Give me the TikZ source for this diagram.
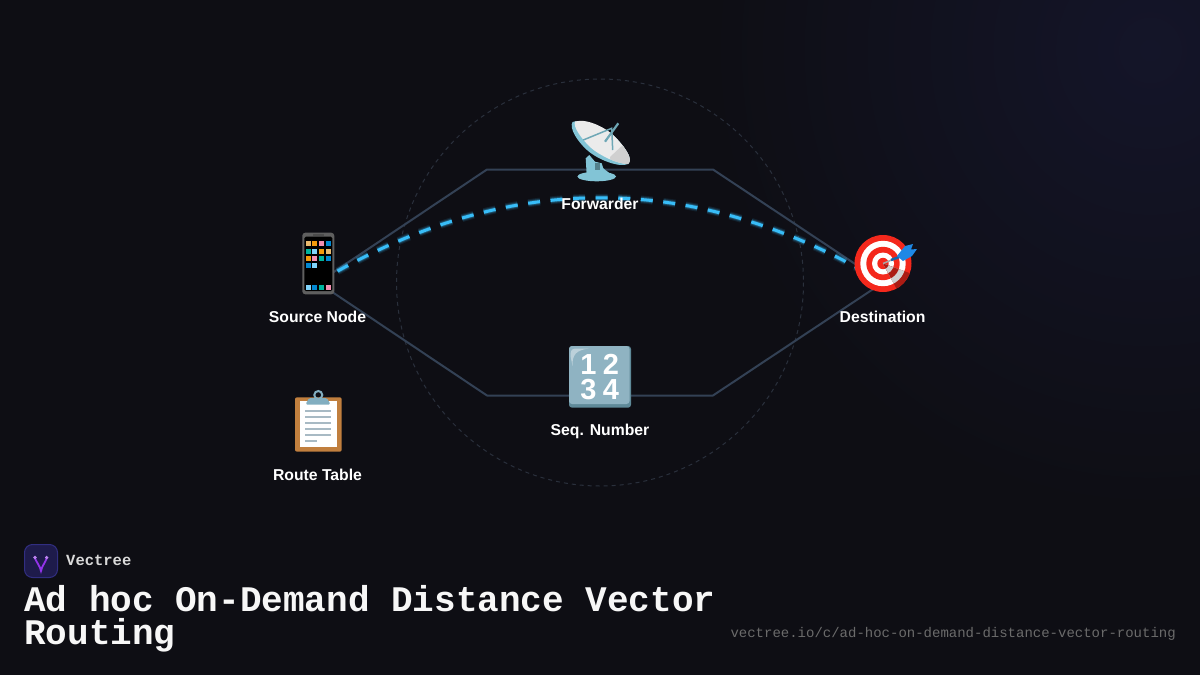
\documentclass[tikz,border=0pt]{standalone}
\usepackage{fontspec}
\setmainfont{Liberation Sans}
\setmonofont{Liberation Mono}
\usetikzlibrary{positioning,calc}
\definecolor{pagebg}{HTML}{0E0E14}
\definecolor{glowblue}{HTML}{141529}
\definecolor{linkgray}{HTML}{334155}
\definecolor{ringgray}{HTML}{2A303C}
\definecolor{pulseblue}{HTML}{38BDF8}
\definecolor{dishrim}{HTML}{82C4D6}
\definecolor{dishgray}{HTML}{D0D0D0}
\definecolor{phonetan}{HTML}{E8B96E}
\definecolor{phoneorange}{HTML}{F59A0B}
\definecolor{phonepink}{HTML}{F48FB1}
\definecolor{phoneblue}{HTML}{0288D1}
\definecolor{phoneteal}{HTML}{00B39D}
\definecolor{phonesky}{HTML}{81D4FA}
\definecolor{phoneframe}{HTML}{5F5F5F}
\definecolor{targetred}{HTML}{F4281C}
\definecolor{dartblue}{HTML}{1E88E5}
\definecolor{seqface}{HTML}{8FB3C2}
\definecolor{seqedge}{HTML}{5F8A99}
\definecolor{boardbrown}{HTML}{C17F3E}
\definecolor{clipteal}{HTML}{82AEC0}
\definecolor{paperline}{HTML}{A8BAC4}
\definecolor{logofill}{HTML}{1E1B4B}
\definecolor{logoedge}{HTML}{312E81}
\definecolor{logotree}{HTML}{9333EA}

\begin{document}
\begin{tikzpicture}[
  x=1pt, y=-1pt,
  link/.style={draw=linkgray, line width=2pt, line join=round},
  pulse/.style={draw=pulseblue, dash pattern=on 12pt off 10.6pt},
  lab/.style={font=\fontsize{15.75}{19}\selectfont\bfseries, text=white, inner sep=0pt, text height=12pt, text depth=0pt},
  digit/.style={font=\fontsize{29}{25.5}\selectfont\bfseries, text=white, inner sep=0pt, align=center}
]
\useasboundingbox (0,0) rectangle (1200,675);
\fill[pagebg] (0,0) rectangle (1200,675);
\begin{scope}
  \clip (0,0) rectangle (1200,675);
  \shade[inner color=glowblue, outer color=pagebg] (1150,50) ellipse (440 and 460);
\end{scope}

\coordinate (sourceNode) at (318,282.5);
\coordinate (destNode) at (883,282.5);
\coordinate (topLeft) at (487,169.5);
\coordinate (topRight) at (713,169.5);
\coordinate (botLeft) at (487,395.5);
\coordinate (botRight) at (713,395.5);
\coordinate (hubCenter) at (600,282.5);

\draw[ringgray, line width=1pt, dash pattern=on 4pt off 4pt] (hubCenter) circle (203.5);
\draw[link] (sourceNode) -- (topLeft) -- (topRight) -- (destNode);
\draw[link] (sourceNode) -- (botLeft) -- (botRight) -- (destNode);

\foreach \w/\o in {8/0.1,6/0.16,4.5/0.25,3/1} {
  \draw[pulse, line width=\w pt, opacity=\o] (sourceNode) .. controls (506,169.5) and (695,169.5) .. (destNode);
}

% phone
\fill[phoneframe, rounded corners=3pt] (302.3,232.7) rectangle (334.3,294.3);
\fill[black, rounded corners=1.5pt] (304.3,236.7) rectangle (332.3,291);
\fill[black!70] (313,234.2) rectangle (323.5,235.8);
\foreach \c/\r/\col in {0/243.7/phonetan,1/243.7/phoneorange,2/243.7/phonepink,3/243.7/phoneblue,
  0/251/phoneteal,1/251/phonesky,2/251/phoneorange,3/251/phonetan,
  0/258.3/phoneorange,1/258.3/phonepink,2/258.3/phoneteal,3/258.3/phoneblue,
  0/265.7/phoneblue,1/265.7/phonesky,
  0/287.7/phonesky,1/287.7/phoneblue,2/287.7/phoneteal,3/287.7/phonepink} {
  \fill[\col] ({308.3+\c*6.67-2.5},\r-2.5) rectangle ++(5,5);
}

% dish
\fill[dishrim] (596.7,176.5) ellipse (19.3 and 4.8);
\fill[dishrim] (586.7,175) -- (585.7,158.3) -- (589.3,155) -- (595,161.7) -- (601.7,163.3) -- (603.3,168.3) -- (611.7,175) -- cycle;
\fill[dishrim!65!black] (595,163.3) rectangle (600,170);
\fill[dishrim] (572.5,122) .. controls (585,118) and (608,128) .. (618,140) .. controls (627,150) and (633,160) .. (628,164) .. controls (620,168) and (598,160) .. (587,150) .. controls (577,141) and (569,128) .. (572.5,122) -- cycle;
\begin{scope}
  \clip (575,121.5) .. controls (587,118) and (608,128) .. (618,140) .. controls (627,150) and (633,160) .. (628,164) .. controls (618,164) and (600,156) .. (590,147) .. controls (581,138) and (573,127) .. (575,121.5) -- cycle;
  \fill[white!92!black] (565,115) rectangle (635,170);
  \fill[dishgray] (610,157) -- (625,143) -- (635,150) -- (635,170) -- (612,170) -- cycle;
\end{scope}
\draw[dishrim!85!black, line width=1.5pt] (583.3,140) -- (611.7,128.3) -- (612.7,150);
\draw[dishrim!85!black, line width=2.2pt] (618.3,123.3) -- (605,141.7);

% target
\foreach \r/\col in {28.5/targetred,22.7/white,16.7/targetred,11/white,5.7/targetred} {
  \fill[\col] (883,263.5) circle (\r);
}
\begin{scope}
  \clip (883,263.5) -- (898,291.5) -- (915,275) -- cycle;
  \foreach \r/\col in {28.5/targetred!70!black,22.7/dishgray,16.7/targetred!70!black,11/dishgray,5.7/targetred!70!black} {
    \fill[\col] (883,263.5) circle (\r);
  }
\end{scope}
\draw[dishgray!80!black, line width=1.5pt] (883,263.5) -- (894,259);
\draw[dartblue!75!black, line width=2.5pt] (891,260) -- (906,254.5);
\fill[dartblue] (897,256) -- (905,246) -- (913,244) -- (911,249.5) -- (917,249) -- (912,256) -- (903,261) -- cycle;

% numbers
\fill[seqedge, rounded corners=3pt] (569,346) rectangle (631,407.7);
\fill[seqface, rounded corners=3pt] (569,346) rectangle (629.5,404);
\fill[seqface!60!white] (572.5,366) .. controls (572,354) and (577,350) .. (589,348.5) -- (575,348.5) .. controls (571,349) and (570.5,352) .. (570.5,356) -- cycle;
\node[digit] (seqDigits) at (599.7,377) {1\hspace{6.4pt}2\\3\hspace{6.4pt}4};

% clipboard
\fill[boardbrown, rounded corners=2pt] (295,397.3) rectangle (341.7,451.7);
\fill[white] (300,400.7) rectangle (336.7,447.3);
\draw[clipteal, line width=2pt] (318.3,395) circle (4);
\fill[clipteal, rounded corners=1.5pt] (309,398) -- (327,398) -- (330.5,404.5) -- (305.5,404.5) -- cycle;
\foreach \y in {410.7,416.7,422.7,428.7,434.7} {
  \draw[paperline, line width=1.7pt] (305,\y) -- (331,\y);
}
\draw[paperline, line width=1.7pt] (305,440.7) -- (316.7,440.7);

\node[lab] (sourceLab) at (317.5,316.5) {Source Node};
\node[lab] (forwardLab) at (600,203.5) {Forwarder};
\node[lab] (destLab) at (882.5,316.5) {Destination};
\node[lab] (seqLab) at (600,429.5) {Seq. Number};
\node[lab] (routeLab) at (317.5,474.5) {Route Table};

% logo
\draw[logoedge, fill=logofill, line width=1pt, rounded corners=8pt] (24.5,544.5) rectangle (57.5,577.5);
\draw[logotree, line width=1.8pt] (35,558.3) .. controls (37,563) and (40,566) .. (41,571) .. controls (42,566) and (45,563) .. (46.7,558.3);
\fill[logotree!60!white] (35,557.5) circle (1.8) (46.7,557.5) circle (1.8);

\node[font=\fontsize{15.5}{18}\selectfont\ttfamily\bfseries, text=white!85!black, inner sep=0pt, anchor=west] (brandLab) at (66,560.2) {Vectree};
\node[font=\fontsize{36}{33}\selectfont\ttfamily\bfseries, text=white!97!black, inner sep=0pt, anchor=north west, align=left] (titleLab) at (24,585) {Ad hoc On-Demand Distance Vector\\Routing};
\node[font=\fontsize{14}{17}\selectfont\ttfamily, text=white!42!black, inner sep=0pt, anchor=east] (urlLab) at (1176,633.6) {vectree.io/c/ad-hoc-on-demand-distance-vector-routing};
\end{tikzpicture}
\end{document}
